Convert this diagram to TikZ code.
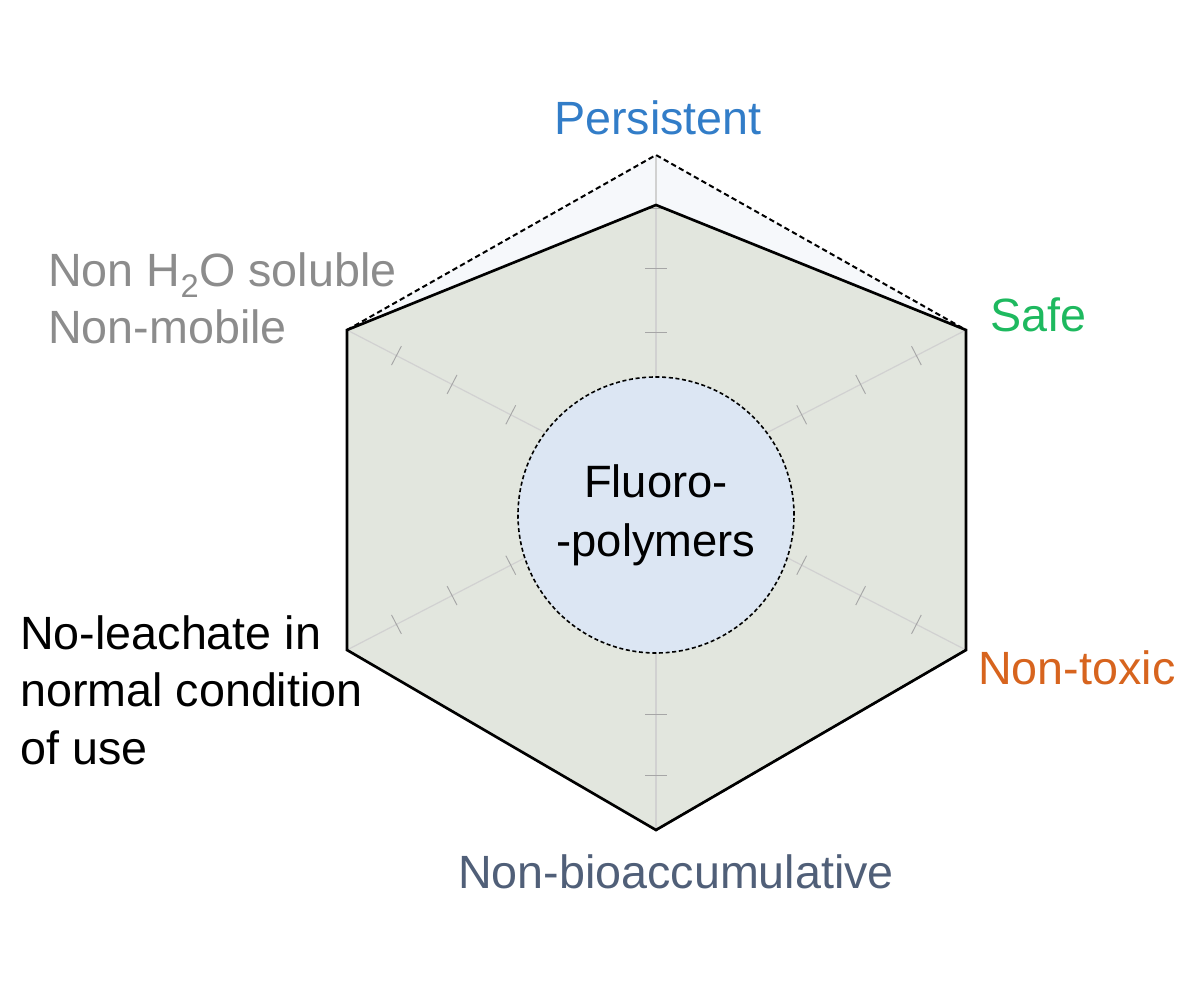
\documentclass[tikz,border=0pt]{standalone}
\usepackage{fontspec}
\setmainfont{Liberation Sans}
\usetikzlibrary{calc}
\definecolor{hexfill}{RGB}{226,230,222}
\definecolor{topfill}{RGB}{246,248,251}
\definecolor{circfill}{RGB}{220,230,243}
\definecolor{cpers}{RGB}{50,125,200}
\definecolor{csafe}{RGB}{30,185,95}
\definecolor{ctox}{RGB}{215,100,30}
\definecolor{cbio}{RGB}{80,95,120}
\definecolor{cgray}{RGB}{140,140,140}
\tikzset{lbl/.style={font=\fontsize{35}{43}\selectfont, inner sep=0pt},
axis/.style={draw=black!18, line width=0.9pt},
tick/.style={draw=black!35, line width=0.7pt}}
\begin{document}
\begin{tikzpicture}[x=0.75pt,y=-0.75pt]
\useasboundingbox (0,0) rectangle (1200,987);
\coordinate (c) at (656,490);
\coordinate (T) at (656,205);
\coordinate (Td) at (656,155);
\coordinate (UR) at (966,330);
\coordinate (LR) at (966,650);
\coordinate (B) at (656,830);
\coordinate (LL) at (347,650);
\coordinate (UL) at (347,330);
\fill[topfill] (UL) -- (Td) -- (UR) -- (T) -- cycle;
\fill[hexfill] (T) -- (UR) -- (LR) -- (B) -- (LL) -- (UL) -- cycle;
\foreach \v in {Td,UR,LR,B,LL,UL}{
  \draw[axis] (c) -- (\v);
  \foreach \f in {0.47,0.66,0.84}{
    \draw[tick] ($(c)!\f!(\v)!8pt!90:(\v)$) -- ($(c)!\f!(\v)!-8pt!90:(\v)$);
  }
}
\draw[line width=2pt] (T) -- (UR) -- (LR) -- (B) -- (LL) -- (UL) -- cycle;
\draw[dash pattern=on 4pt off 2.5pt, line width=1.5pt] (UL) -- (Td) -- (UR);
\draw[dash pattern=on 4pt off 2.5pt, line width=1.5pt] (LR) -- (B);
\node[circle, draw, dash pattern=on 3pt off 2pt, line width=1.2pt, fill=circfill, minimum size=207pt, inner sep=0pt,
  align=center, font=\fontsize{34}{44}\selectfont] (circ) at (656,515) {Fluoro-\\-polymers};
\node[lbl, text=cpers] (pers) at (658,118) {Persistent};
\node[lbl, text=csafe, anchor=west] (safe) at (990,315) {Safe};
\node[lbl, text=ctox, anchor=west] (tox) at (978,668) {Non-toxic};
\node[lbl, text=cbio] (bio) at (676,872) {Non-bioaccumulative};
\node[lbl, text=cgray, anchor=west, align=left] (sol) at (48,298) {Non H\textsubscript{2}O soluble\\Non-mobile};
\node[lbl, anchor=west, align=left] (leach) at (20,690) {No-leachate in\\normal condition\\of use};
\end{tikzpicture}
\end{document}
